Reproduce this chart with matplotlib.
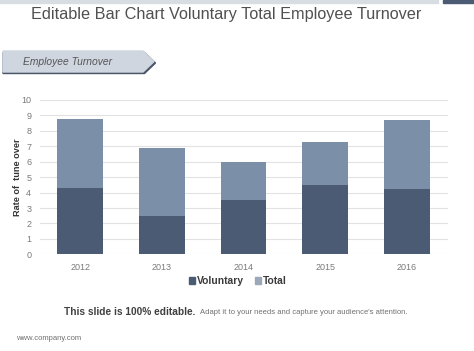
import matplotlib.pyplot as plt
from matplotlib.patches import Polygon, Rectangle, Patch

years = ["2012", "2013", "2014", "2015", "2016"]
voluntary = [4.3, 2.5, 3.5, 4.5, 4.2]
total = [4.5, 4.4, 2.5, 2.8, 4.5]
y_ticks = list(range(0, 11))

DARK = "#4b5b73"
LIGHT = "#7b8fa8"
plt.rcParams["font.family"] = ["Liberation Sans", "DejaVu Sans"]

fig = plt.figure(figsize=(4.74, 3.51), dpi=100)
W, H = 474, 351

def px(x, y):
    return (x / W, 1 - y / H)

# slide decorations
fig.patches.append(Rectangle((0, 0.991), 0.924, 0.009, transform=fig.transFigure,
                             color="#d8dde4", zorder=0))
fig.patches.append(Rectangle((0.935, 0.991), 0.065, 0.009, transform=fig.transFigure,
                             color="#4b5b73", zorder=0))
fig.text(226 / W, 1 - 14 / H, "Editable Bar Chart Voluntary Total Employee Turnover",
         ha="center", va="center", fontsize=11.7, color="#505050")

# banner
shadow = Polygon([px(3, 52.5), px(144.5, 52.5), px(155.5, 63), px(144.5, 73.5), px(3, 73.5)],
                 closed=True, transform=fig.transFigure, color="#4a5568", zorder=1)
banner = Polygon([px(3, 51), px(143, 51), px(154, 61.5), px(143, 72), px(3, 72)],
                 closed=True, transform=fig.transFigure, color="#cfd6e0", zorder=2)
fig.patches.extend([shadow, banner])
fig.text(23 / W, 1 - 62 / H, "Employee Turnover", ha="left", va="center",
         fontsize=7.4, style="italic", color="#555555", zorder=3)

ax = fig.add_axes([39.5 / W, 1 - 254.3 / H, 408.2 / W, 154.3 / H])
x = range(len(years))
ax.bar(x, voluntary, width=0.56, color=DARK, zorder=3, label="Voluntary")
ax.bar(x, total, width=0.56, bottom=voluntary, color=LIGHT, zorder=3, label="Total")

ax.set_xlim(-0.5, len(years) - 0.5)
ax.set_ylim(0, 10)
ax.set_yticks(y_ticks)
ax.set_xticks(list(x))
ax.set_xticklabels(years)
ax.tick_params(length=0, labelsize=6.5, labelcolor="#7a7a7a")
ax.tick_params(axis="y", pad=6)
ax.tick_params(axis="x", pad=6)
ax.yaxis.grid(True, color="#e2e2e2", linewidth=0.8, zorder=0)
ax.set_axisbelow(True)
for s in ax.spines.values():
    s.set_visible(False)
ax.set_ylabel("Rate of  tune over", fontsize=6.6, fontweight="bold", color="#333333")
ax.yaxis.set_label_coords((21.5 - 39.5) / 408.2, 0.5)

handles = [Patch(color=DARK, label="Voluntary"), Patch(color="#9aa8b8", label="Total")]
leg = fig.legend(handles=handles, loc="center", bbox_to_anchor=(238 / W, 1 - 281 / H),
                 ncol=2, frameon=False, handlelength=0.6, handleheight=0.6,
                 handletextpad=0.2, columnspacing=1.0,
                 prop={"size": 7.4, "weight": "bold"})
for t in leg.get_texts():
    t.set_color("#3a3a3a")

fig.text(64 / W, 1 - 312 / H, "This slide is 100% editable.", ha="left", va="center",
         fontsize=7.3, fontweight="bold", color="#404040")
fig.text(200 / W, 1 - 312.5 / H,
         "Adapt it to your needs and capture your audience's attention.",
         ha="left", va="center", fontsize=5.5, color="#707070")
fig.text(16 / W, 1 - 339 / H, "www.company.com", ha="left", va="center",
         fontsize=5.5, color="#707070")

fig.savefig("out.png", dpi=100)
